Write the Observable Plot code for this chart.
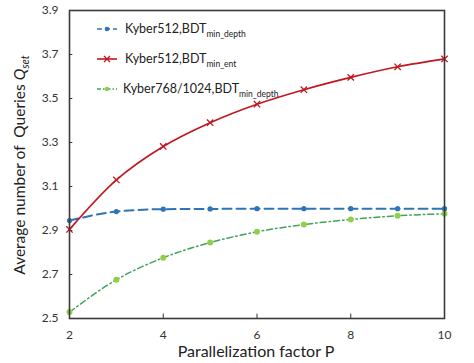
<!DOCTYPE html>
<html>
<head>
<meta charset="utf-8">
<script src="https://cdn.jsdelivr.net/npm/d3@7"></script>
<script src="https://cdn.jsdelivr.net/npm/@observablehq/plot@0.6"></script>
<style>
  html, body { margin: 0; padding: 0; background: #fff; }
  #chart svg { display: block; }
</style>
</head>
<body>
<div id="chart"></div>
<script>
const P = [2, 3, 4, 5, 6, 7, 8, 9, 10];
const kyber512MinDepth = [2.945, 2.986, 2.997, 2.998, 2.999, 2.999, 2.999, 2.999, 2.999];
const kyber512MinEnt = [2.905, 3.13, 3.282, 3.39, 3.474, 3.54, 3.596, 3.644, 3.68];
const kyber7681024MinDepth = [2.529, 2.676, 2.776, 2.845, 2.894, 2.927, 2.95, 2.967, 2.976];
const xTicks = [2, 4, 6, 8, 10];
const yTicks = [2.5, 2.7, 2.9, 3.1, 3.3, 3.5, 3.7, 3.9];
const seriesNames = ["Kyber512,BDT", "Kyber512,BDT", "Kyber768/1024,BDT"];
const seriesSubs = ["min_depth", "min_ent", "min_depth"];
const xLabel = "Parallelization factor P";
const yLabel = "Average number of  Queries ";

const blue = "#2e75b6", red = "#c0161f", greenLine = "#3fa45a", greenDot = "#8fcf4c";
const font = "Lato, 'Open Sans', sans-serif";

const rows = (vals) => P.map((p, i) => ({p, v: vals[i]}));
const d1 = rows(kyber512MinDepth), d2 = rows(kyber512MinEnt), d3s = rows(kyber7681024MinDepth);

const plot = Plot.plot({
  width: 474,
  height: 363,
  marginLeft: 69,
  marginRight: 30,
  marginTop: 10,
  marginBottom: 45,
  style: {fontFamily: font, background: "#fff"},
  x: {domain: [2, 10]},
  y: {domain: [2.5, 3.9]},
  marks: [
    Plot.axisX({ticks: xTicks, tickSize: 0, tickPadding: 12, label: null, fontSize: 12, fill: "#333"}),
    Plot.axisY({ticks: yTicks, tickSize: 0, tickPadding: 11, label: null, fontSize: 12, fill: "#333", tickFormat: d3.format(".1f")}),
    Plot.ruleX(xTicks, {x: d => d, y1: 2.5, y2: 2.5 + 0.02, stroke: "#333", strokeWidth: 1}),
    Plot.ruleY(yTicks, {y: d => d, x1: 2, x2: 2 + 0.07, stroke: "#333", strokeWidth: 1}),
    Plot.line(d3s, {x: "p", y: "v", curve: "monotone-x", stroke: greenLine, strokeWidth: 1.5, strokeDasharray: "6,3,1.5,3"}),
    Plot.dot(d3s, {x: "p", y: "v", r: 3, fill: greenDot, stroke: "none"}),
    Plot.line(d1, {x: "p", y: "v", curve: "monotone-x", stroke: blue, strokeWidth: 2, strokeDasharray: "9,5"}),
    Plot.dot(d1, {x: "p", y: "v", r: 2.6, fill: blue, stroke: "none"}),
    Plot.line(d2, {x: "p", y: "v", curve: "monotone-x", stroke: red, strokeWidth: 1.6}),
    Plot.dot(d2, {x: "p", y: "v", r: 3, symbol: "times", stroke: red, strokeWidth: 1.3}),
    Plot.frame({stroke: "#3a3a3a", strokeWidth: 1.6})
  ]
});

document.getElementById("chart").appendChild(plot);

const svg = d3.select(plot);
// Axis labels
svg.append("text")
  .attr("x", 256).attr("y", 357)
  .attr("text-anchor", "middle")
  .attr("font-family", font).attr("font-size", 16).attr("fill", "#222")
  .text(xLabel);

const yl = svg.append("text")
  .attr("transform", "translate(25,165) rotate(-90)")
  .attr("text-anchor", "middle")
  .attr("font-family", font).attr("font-size", 15.5).attr("fill", "#222");
yl.append("tspan").text(yLabel);
yl.append("tspan").attr("font-style", "italic").text("Q");
yl.append("tspan").attr("font-style", "italic").attr("font-size", 11).attr("dy", 4).text("set");

// Legend
const legend = [
  {color: blue, dash: "5,3", dot: "circle", fill: blue},
  {color: red, dash: null, dot: "times", fill: "none"},
  {color: greenLine, dash: "4,2,1.5,2", dot: "circle", fill: greenDot}
];
const ly = [29, 59, 89];
legend.forEach((l, i) => {
  const g = svg.append("g").attr("transform", `translate(0,${ly[i]})`);
  g.append("line").attr("x1", 97).attr("x2", 117).attr("y1", 0).attr("y2", 0)
    .attr("stroke", l.color).attr("stroke-width", 1.6)
    .attr("stroke-dasharray", l.dash);
  if (l.dot === "circle") {
    g.append("circle").attr("cx", 107).attr("cy", 0).attr("r", 2.3).attr("fill", l.fill);
  } else {
    g.append("path").attr("d", "M104,-3L110,3M104,3L110,-3")
      .attr("stroke", l.color).attr("stroke-width", 1.3);
  }
  const t = g.append("text").attr("x", i === 2 ? 123 : 125).attr("y", 4)
    .attr("text-anchor", "start")
    .attr("font-family", font).attr("font-size", 12.5).attr("fill", "#222");
  t.append("tspan").text(seriesNames[i]);
  t.append("tspan").attr("font-size", 8.5).attr("dy", 4).text(seriesSubs[i]);
});
</script>
</body>
</html>
